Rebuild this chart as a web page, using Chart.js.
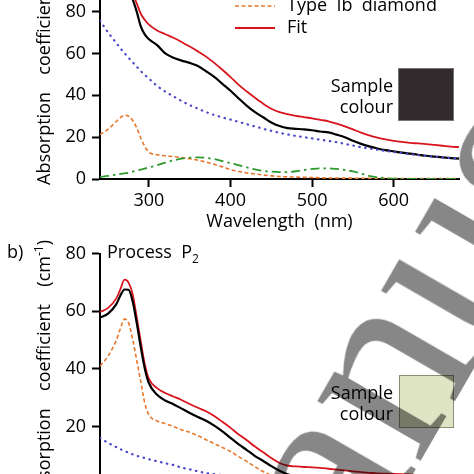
<!DOCTYPE html>
<html>
<head>
<meta charset="utf-8">
<script src="https://cdn.jsdelivr.net/npm/chart.js@4.4.1/dist/chart.umd.min.js"></script>
<style>
  html, body { margin: 0; padding: 0; background: #fff; }
  body { width: 474px; height: 474px; overflow: hidden; position: relative; font-family: "Open Sans", sans-serif; color: #000; }
  .box { position: absolute; }
  .txt { position: absolute; font-size: 18px; line-height: 20px; white-space: pre; }
  .rt { text-align: right; width: 80px; }
  .ytitle { position: absolute; font-size: 18px; line-height: 24px; white-space: pre; transform: rotate(-90deg); transform-origin: 0 0; word-spacing: 4px; }
  .swatch { position: absolute; box-sizing: border-box; }
  #wm { position: absolute; left: 70px; top: 632px; transform-origin: 0 0; transform: rotate(-60deg);
        font-family: "Liberation Serif", serif; font-size: 260px; line-height: 260px; color: #878787;
        mix-blend-mode: multiply; white-space: pre; }
</style>
</head>
<body>
<div class="box" style="left:0; top:-47px; width:474px; height:284px;"><canvas id="chartA" width="474" height="284"></canvas></div>
<div class="box" style="left:0; top:237px; width:474px; height:300px;"><canvas id="chartB" width="474" height="300"></canvas></div>

<div class="ytitle" style="left:27px; top:185px;">Absorption  coefficient  (cm<sup style="font-size:12px">-1</sup>)</div>
<div class="ytitle" style="left:27px; top:540px; width:300px; text-align:right;">Absorption  coefficient  (cm<sup style="font-size:12px">-1</sup>)</div>

<div class="txt rt" style="left:313px; top:75px;">Sample</div>
<div class="txt rt" style="left:313px; top:96px;">colour</div>
<div class="swatch" style="left:398px; top:68px; width:56px; height:53px; background:#332a2e; border:1px solid #777;"></div>

<div class="txt rt" style="left:313px; top:382px;">Sample</div>
<div class="txt rt" style="left:313px; top:403px;">colour</div>
<div class="swatch" style="left:399px; top:375px; width:55px; height:53px; background:#dfe5c4; border:1px solid #8a9070;"></div>

<div class="txt" style="left:7px; top:241px;">b)</div>
<div class="txt" style="left:107px; top:241px;">Process  P<sub style="font-size:12px">2</sub></div>

<div id="wm">manus</div>

<script>
// wavelength grid (nm), shared by both panels
const wavelength = [240, 250, 260, 265, 270, 275, 280, 285, 290, 295, 300, 310, 320, 330, 340, 350, 360, 370, 380, 390,
  400, 410, 420, 430, 440, 450, 460, 470, 480, 490, 500, 510, 520, 530, 540, 550, 560, 570, 580, 590,
  600, 610, 620, 630, 640, 650, 660, 670, 680];

// panel a
const measuredA = [140, 125, 110, 103, 97, 91, 86, 80, 73, 69, 66.8, 64, 60, 58, 56.6, 55.5, 54, 51.5, 48.8, 45.5,
  42.2, 38.5, 35, 32, 29.5, 27, 25.3, 24.3, 24, 23.7, 23.3, 22.7, 22.3, 21.2, 20, 18.3, 16.8, 15.6, 14.6, 13.8,
  13.2, 12.6, 12.1, 11.6, 11.1, 10.7, 10.3, 10, 9.7];
const fitA = [145, 130, 115, 108, 101, 95, 89, 84, 79, 76, 73.8, 71, 69.2, 67.5, 65.5, 63.3, 61, 58.5, 55.5, 52.2,
  48.7, 45, 41.8, 38.8, 36, 33.6, 32, 31, 30.2, 29.6, 29, 28.3, 27.6, 26.5, 25.2, 23.7, 22.2, 20.9, 19.8, 18.9,
  18.2, 17.7, 17.3, 17, 16.7, 16.3, 15.9, 15.5, 15.2];
const backgroundA = [75.7, 70, 65, 62.5, 60.2, 58, 55.8, 53.7, 51.6, 49.7, 48, 44.5, 41.8, 39.5, 37.3, 35.3, 33.6, 32, 30.6, 29.4,
  28.4, 27.3, 26.2, 25.1, 24, 23, 22.1, 21.3, 20.6, 20, 19.4, 18.8, 18.2, 17.6, 16.8, 16, 15.2, 14.6, 14, 13.4,
  12.9, 12.4, 11.9, 11.4, 11, 10.6, 10.3, 10, 9.7];
const typeIbA = [21.2, 23.8, 27.5, 29.3, 30.5, 30, 28, 24.5, 19.5, 15.5, 12.8, 11.6, 11.1, 10.7, 10.2, 9.7, 9, 8.1, 7, 5.8,
  4.5, 3.6, 2.9, 2.4, 1.9, 1.5, 1.2, 1, 0.9, 0.8, 0.7, 0.6, 0.5, 0.5, 0.4, 0.4, 0.3, 0.3, 0.3, 0.3,
  0.2, 0.2, 0.2, 0.2, 0.2, 0.2, 0.2, 0.2, 0.2];
const bandsA = [1, 1.5, 2.1, 2.4, 2.7, 3, 3.5, 4, 4.5, 5, 5.5, 6.6, 7.8, 8.9, 9.7, 10.2, 10.3, 10.1, 9.6, 8.6,
  7.6, 6.6, 5.5, 4.6, 3.9, 3.5, 3.3, 3.3, 3.7, 4.3, 4.8, 5.1, 5.1, 4.8, 4.3, 3.6, 2.6, 1.5, 0.8, 0.4,
  0.2, 0.1, 0.1, 0.1, 0.1, 0.1, 0.1, 0.1, 0.1];

// panel b
const measuredB = [57.8, 59.2, 62.5, 65.5, 67.6, 67.5, 63.5, 56, 47.5, 40, 35, 31, 29, 27.7, 26.2, 24.7, 23.3, 22, 20.3, 18.3,
  16, 13.8, 11.8, 9.7, 8, 6.2, 4.6, 3.4, 2.8, 2.4, 2.2, 2, 1.9, 1.8, 1.7, 1.6, 1.5, 1.5, 1.4, 1.4,
  1.3, 1.3, 1.3, 1.2, 1.2, 1.2, 1.2, 1.2, 1.2];
const fitB = [59.8, 61.2, 64.5, 67.7, 71, 70, 66, 58, 49.5, 41.5, 36.5, 33.3, 31.6, 30.4, 29.2, 27.8, 26.5, 25.3, 23.6, 21.6,
  19.5, 17.2, 15.2, 13, 11, 9, 7.3, 6.4, 6.1, 5.9, 5.8, 5.6, 5.3, 5, 4.7, 4.4, 4.1, 3.9, 3.7, 3.6,
  3.5, 3.4, 3.3, 3.2, 3.2, 3.1, 3.1, 3, 3];
const backgroundB = [16, 14.3, 12.8, 12.1, 11.5, 10.9, 10.3, 9.8, 9.4, 9, 8.6, 7.9, 7.2, 6.6, 5.7, 5.1, 4.4, 3.8, 3.4, 3.1,
  2.9, 2.8, 2.7, 2.6, 2.6, 2.5, 2.5, 2.4, 2.4, 2.3, 2.3, 2.3, 2.2, 2.2, 2.2, 2.2, 2.1, 2.1, 2.1, 2.1,
  2.1, 2.1, 2, 2, 2, 2, 2, 2, 2];
const typeIbB = [41, 44.5, 50, 54, 57.3, 56, 50.3, 43, 35.5, 28, 24, 21.9, 21, 20, 18.8, 18, 16.8, 15.4, 14, 12.7,
  11.3, 9.5, 7.8, 6, 4.3, 3, 2.2, 1.6, 1.2, 1, 0.9, 0.8, 0.7, 0.6, 0.5, 0.5, 0.4, 0.4, 0.4, 0.3,
  0.3, 0.3, 0.3, 0.3, 0.3, 0.3, 0.3, 0.3, 0.3];

const xTicks = [300, 400, 500, 600];
const yTicksA = [0, 20, 40, 60, 80, 100];
const yTicksB = [0, 20, 40, 60, 80];

const pts = (vals) => wavelength.map((w, i) => ({ x: w, y: vals[i] }));

const styles = {
  measured: { borderColor: '#000000', borderWidth: 2.2 },
  fit: { borderColor: '#d8141c', borderWidth: 1.8 },
  background: { borderColor: '#4a48c8', borderWidth: 2.2, borderDash: [0.5, 5.5], borderCapStyle: 'round' },
  typeIb: { borderColor: '#e8772e', borderWidth: 1.6, borderDash: [4, 2.5] },
  bands: { borderColor: '#2f9a2f', borderWidth: 1.8, borderDash: [9, 4, 2.5, 4] }
};

const ds = (label, vals, st) => Object.assign({
  label: label, data: pts(vals), pointRadius: 0, fill: false, cubicInterpolationMode: 'monotone'
}, st);

const font = { family: '"Open Sans", sans-serif', size: 18 };

function axes(yMax, yTicks, xAxisH, showX) {
  return {
    x: {
      type: 'linear', min: 240, max: 680,
      afterBuildTicks: s => { s.ticks = xTicks.map(v => ({ value: v })); },
      afterFit: s => { s.height = xAxisH; },
      grid: { drawOnChartArea: false, tickLength: 8, tickColor: '#000', tickWidth: 2 },
      border: { color: '#000', width: 2 },
      ticks: { color: '#000', font: font, padding: 3, maxRotation: 0 },
      title: { display: showX, text: 'Wavelength  (nm)', color: '#000', font: font, padding: { top: 0, bottom: 4 } }
    },
    y: {
      min: 0, max: yMax,
      afterBuildTicks: s => { s.ticks = yTicks.map(v => ({ value: v })); },
      afterFit: s => { s.width = 100; },
      grid: { drawOnChartArea: false, tickLength: 8, tickColor: '#000', tickWidth: 2 },
      border: { color: '#000', width: 2 },
      ticks: { color: '#000', font: font, padding: 6 }
    }
  };
}

// legend rows drawn inside panel a (page y = 6 and 28, canvas offset 47)
const legendPlugin = {
  id: 'legendRows',
  afterDraw(chart) {
    const ctx = chart.ctx;
    const rows = [
      { label: 'Type  Ib  diamond', st: styles.typeIb, y: 6 + 47 },
      { label: 'Fit', st: styles.fit, y: 28 + 47 }
    ];
    ctx.save();
    rows.forEach(r => {
      ctx.strokeStyle = r.st.borderColor;
      ctx.lineWidth = r.st.borderWidth;
      ctx.setLineDash(r.st.borderDash || []);
      ctx.beginPath();
      ctx.moveTo(235, r.y);
      ctx.lineTo(275, r.y);
      ctx.stroke();
      ctx.setLineDash([]);
      ctx.fillStyle = '#000';
      ctx.font = '18px "Open Sans", sans-serif';
      ctx.textBaseline = 'middle';
      ctx.fillText(r.label, 287, r.y);
    });
    ctx.restore();
  }
};

new Chart(document.getElementById('chartA'), {
  type: 'line',
  data: {
    datasets: [
      ds('Background', backgroundA, styles.background),
      ds('Bands', bandsA, styles.bands),
      ds('Type Ib diamond', typeIbA, styles.typeIb),
      ds('Measured', measuredA, styles.measured),
      ds('Fit', fitA, styles.fit)
    ]
  },
  options: {
    responsive: false, animation: false,
    layout: { padding: { top: 10, right: 15, left: 0, bottom: 0 } },
    plugins: { legend: { display: false }, tooltip: { enabled: false } },
    scales: axes(100, yTicksA, 58, true)
  },
  plugins: [legendPlugin]
});

new Chart(document.getElementById('chartB'), {
  type: 'line',
  data: {
    datasets: [
      ds('Background', backgroundB, styles.background),
      ds('Type Ib diamond', typeIbB, styles.typeIb),
      ds('Measured', measuredB, styles.measured),
      ds('Fit', fitB, styles.fit)
    ]
  },
  options: {
    responsive: false, animation: false,
    layout: { padding: { top: 13, right: 15, left: 0, bottom: 0 } },
    plugins: { legend: { display: false }, tooltip: { enabled: false } },
    scales: axes(80, yTicksB, 53, true)
  }
});
</script>
</body>
</html>
